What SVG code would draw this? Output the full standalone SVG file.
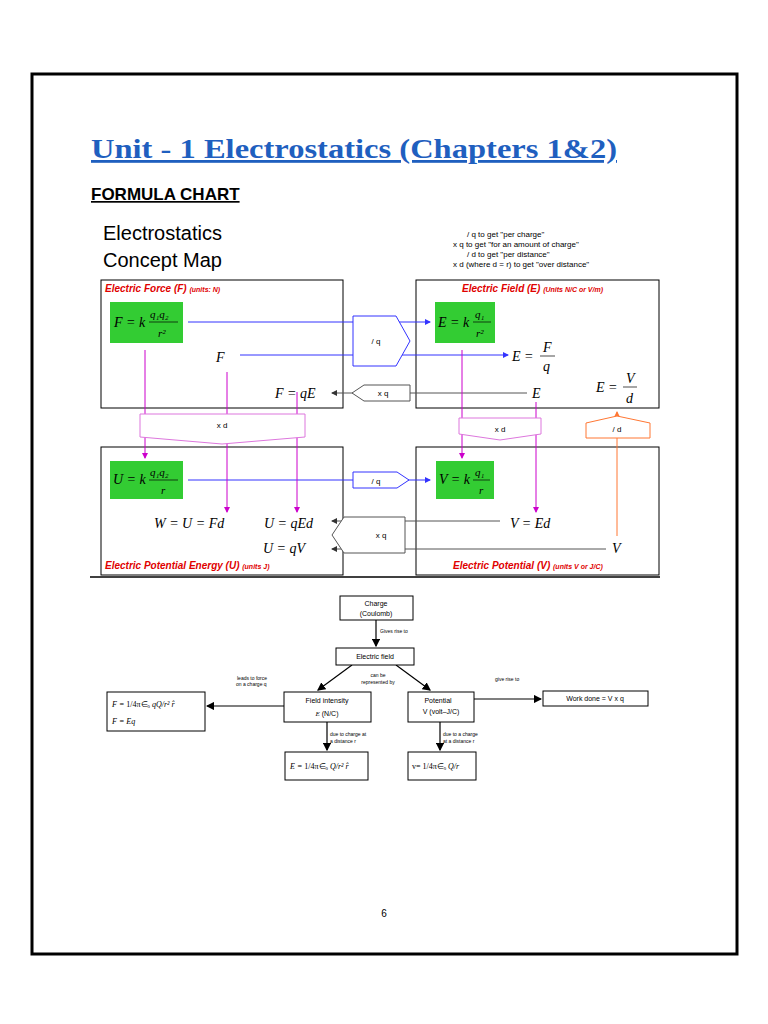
<svg xmlns="http://www.w3.org/2000/svg" width="768" height="1024" viewBox="0 0 768 1024">
<defs>
<style>
.m{font-family:"Liberation Serif",serif;font-style:italic;font-size:14px}
.ms{font-size:11px}
.mt{font-size:8px}
.hd{font-family:"Liberation Sans",sans-serif;font-style:italic;font-weight:bold;font-size:10px;fill:#e00000}
.hs{font-size:7px}
.sm{font-family:"Liberation Sans",sans-serif;font-size:8px}
.t{font-family:"Liberation Sans",sans-serif;font-size:7px}
.t5{font-size:5px}
.bx{fill:#fff;stroke:#000;stroke-width:1}
.g{fill:#33cc33}
</style>
<marker id="ab" markerWidth="6" markerHeight="6" refX="5" refY="3" orient="auto"><path d="M0,0L6,3L0,6z" fill="#3333ff"/></marker>
<marker id="ap" markerWidth="6" markerHeight="6" refX="5" refY="3" orient="auto"><path d="M0,0L6,3L0,6z" fill="#cc00cc"/></marker>
<marker id="ag" markerWidth="6" markerHeight="6" refX="5" refY="3" orient="auto"><path d="M0,0L6,3L0,6z" fill="#333"/></marker>
<marker id="ao" markerWidth="6" markerHeight="6" refX="5" refY="3" orient="auto"><path d="M0,0L6,3L0,6z" fill="#ff7733"/></marker>
<marker id="ak" markerWidth="7" markerHeight="7" refX="6" refY="3.5" orient="auto"><path d="M0,0L7,3.5L0,7z" fill="#000"/></marker>
</defs>
<rect width="768" height="1024" fill="#fff"/>
<rect x="32" y="74" width="705" height="880" fill="none" stroke="#000" stroke-width="3"/>
<text x="91" y="158" font-family="Liberation Serif,serif" font-weight="bold" font-size="28" fill="#1f5fbf" text-decoration="underline" textLength="526" lengthAdjust="spacingAndGlyphs">Unit - 1 Electrostatics (Chapters 1&amp;2)</text>
<text x="91" y="200" font-family="Liberation Sans,sans-serif" font-weight="bold" font-size="17" text-decoration="underline">FORMULA CHART</text>
<text x="103" y="240" font-family="Liberation Sans,sans-serif" font-size="20">Electrostatics</text>
<text x="103" y="267" font-family="Liberation Sans,sans-serif" font-size="20">Concept Map</text>
<g class="sm"><text x="467" y="237">/ q to get "per charge"</text><text x="453" y="247">x q to get "for an amount of charge"</text><text x="467" y="257">/ d to get "per distance"</text><text x="453" y="267">x d (where d = r) to get "over distance"</text></g>

<g id="forceBox"><rect x="101" y="280" width="242" height="128" class="bx"/><text x="105" y="292" class="hd">Electric Force (F) <tspan class="hs">(units:  N)</tspan></text>
<rect x="110" y="302" width="73" height="41" class="g"/><text x="114" y="327" class="m">F = k</text><text x="150" y="318" class="m ms">q₁q₂</text><line x1="149" y1="322" x2="178" y2="322" stroke="#000" stroke-width="0.7"/><text x="158" y="337" class="m ms">r²</text>
<text x="216" y="362" class="m">F</text><text x="275" y="398" class="m">F = qE</text></g>
<g id="fieldBox"><rect x="416" y="280" width="243" height="128" class="bx"/><text x="462" y="292" class="hd">Electric Field (E) <tspan class="hs">(Units N/C or V/m)</tspan></text>
<rect x="435" y="302" width="60" height="41" class="g"/><text x="438" y="327" class="m">E = k</text><text x="475" y="318" class="m ms">q₁</text><line x1="473" y1="322" x2="491" y2="322" stroke="#000" stroke-width="0.7"/><text x="476" y="337" class="m ms">r²</text>
<text x="512" y="361" class="m">E =</text><text x="543" y="352" class="m">F</text><line x1="540" y1="356" x2="555" y2="356" stroke="#000" stroke-width="0.7"/><text x="543" y="371" class="m">q</text>
<text x="532" y="398" class="m">E</text><text x="596" y="392" class="m">E =</text><text x="626" y="383" class="m">V</text><line x1="623" y1="387" x2="637" y2="387" stroke="#000" stroke-width="0.7"/><text x="626" y="403" class="m">d</text></g>
<g id="energyBox"><rect x="101" y="447" width="242" height="128" class="bx"/><text x="105" y="569" class="hd">Electric Potential Energy (U) <tspan class="hs">(units J)</tspan></text>
<rect x="110" y="461" width="73" height="38" class="g"/><text x="113" y="484" class="m">U = k</text><text x="150" y="476" class="m ms">q₁q₂</text><line x1="149" y1="480" x2="178" y2="480" stroke="#000" stroke-width="0.7"/><text x="161" y="494" class="m ms">r</text>
<text x="154" y="528" class="m">W = U = Fd</text><text x="264" y="528" class="m">U = qEd</text><text x="263" y="553" class="m">U = qV</text></g>
<g id="potBox"><rect x="416" y="447" width="243" height="128" class="bx"/><text x="453" y="569" class="hd">Electric Potential (V) <tspan class="hs">(units V or J/C)</tspan></text>
<rect x="436" y="461" width="58" height="38" class="g"/><text x="439" y="484" class="m">V = k</text><text x="475" y="476" class="m ms">q₁</text><line x1="473" y1="480" x2="490" y2="480" stroke="#000" stroke-width="0.7"/><text x="479" y="494" class="m ms">r</text>
<text x="510" y="528" class="m">V = Ed</text><text x="612" y="553" class="m">V</text></g>
<line x1="90" y1="577" x2="660" y2="577" stroke="#000" stroke-width="1.5"/>

<g id="connectors" fill="none">
<g stroke="#3333ff"><line x1="188" y1="322" x2="430" y2="322" marker-end="url(#ab)"/><line x1="240" y1="355" x2="508" y2="355" marker-end="url(#ab)"/><line x1="188" y1="480" x2="430" y2="480" marker-end="url(#ab)"/></g>
<g stroke="#555"><line x1="527" y1="393" x2="332" y2="393" marker-end="url(#ag)"/><line x1="500" y1="521" x2="332" y2="521" marker-end="url(#ag)"/><line x1="606" y1="549" x2="332" y2="549" marker-end="url(#ag)"/></g>
<g stroke="#cc00cc"><line x1="145" y1="350" x2="145" y2="458" marker-end="url(#ap)"/><line x1="227" y1="372" x2="227" y2="512" marker-end="url(#ap)"/><line x1="297" y1="392" x2="297" y2="512" marker-end="url(#ap)"/><line x1="462" y1="350" x2="462" y2="458" marker-end="url(#ap)"/><line x1="536" y1="402" x2="536" y2="512" marker-end="url(#ap)"/></g>
<line x1="617" y1="536" x2="617" y2="412" stroke="#ff7733" marker-end="url(#ao)"/>
<g stroke="#000" stroke-width="1.2">
<line x1="376" y1="620" x2="376" y2="646" marker-end="url(#ak)"/>
<line x1="352" y1="665" x2="318" y2="690" marker-end="url(#ak)"/>
<line x1="396" y1="665" x2="430" y2="690" marker-end="url(#ak)"/>
<line x1="284" y1="706" x2="207" y2="706" marker-end="url(#ak)"/>
<line x1="474" y1="699" x2="541" y2="699" marker-end="url(#ak)"/>
<line x1="327" y1="722" x2="327" y2="750" marker-end="url(#ak)"/>
<line x1="440" y1="722" x2="440" y2="750" marker-end="url(#ak)"/>
</g>
</g>
<g id="ops" font-family="Liberation Sans,sans-serif" font-size="8" text-anchor="middle">
<path d="M353,316H396L410,341L396,366H353Z" fill="#fff" stroke="#3333ff"/><text x="376" y="344">/ q</text>
<path d="M353,472H397L409,480L397,488H353Z" fill="#fff" stroke="#3333ff"/><text x="376" y="484">/ q</text>
<path d="M364,385H410V401H364L352,393Z" fill="#fff" stroke="#555"/><text x="383" y="396">x q</text>
<path d="M332,535L344,517H405V553H344Z" fill="#fff" stroke="#555"/><text x="381" y="538">x q</text>
<path d="M140,414H305V437L222,444L140,437Z" fill="#fff" stroke="#dd77dd"/><text x="222" y="428">x d</text>
<path d="M459,418H541V434L500,440L459,434Z" fill="#fff" stroke="#dd77dd"/><text x="500" y="432">x d</text>
<path d="M586,423L617,416L650,423V438H586Z" fill="#fff" stroke="#ff7733"/><text x="617" y="432">/ d</text>
</g>

<g id="charge"><rect x="340" y="596" width="73" height="24" class="bx"/><text x="376" y="606" class="t" text-anchor="middle">Charge</text><text x="376" y="616" class="t" text-anchor="middle">(Coulomb)</text></g>
<text x="380" y="633" class="t t5">Gives rise to</text>
<g id="efield"><rect x="336" y="648" width="78" height="17" class="bx"/><text x="375" y="659" class="t" text-anchor="middle">Electric field</text></g>
<g><text x="378" y="677" class="t t5" text-anchor="middle">can be</text><text x="378" y="684" class="t t5" text-anchor="middle">represented by</text><text x="237" y="680" class="t t5">leads to force</text><text x="236" y="686" class="t t5">on a charge q</text><text x="495" y="681" class="t t5">give rise to</text><text x="330" y="736" class="t t5">due to charge at</text><text x="330" y="743" class="t t5">a distance r</text><text x="443" y="736" class="t t5">due to a charge</text><text x="443" y="743" class="t t5">at a distance r</text></g>
<g id="intensity"><rect x="284" y="692" width="87" height="30" class="bx"/><text x="327" y="703" class="t" text-anchor="middle">Field intensity</text><text x="327" y="716" class="t" text-anchor="middle"><tspan font-style="italic" font-family="Liberation Serif,serif">E</tspan>    (N/C)</text></g>
<g id="potential"><rect x="408" y="692" width="66" height="30" class="bx"/><text x="438" y="703" class="t" text-anchor="middle">Potential</text><text x="441" y="714" class="t" text-anchor="middle">V   (volt–J/C)</text></g>
<g id="work"><rect x="543" y="691" width="105" height="15" class="bx"/><text x="595" y="701" class="t" text-anchor="middle">Work done = V x q</text></g>
<g id="forceF"><rect x="107" y="692" width="98" height="39" class="bx"/><text x="112" y="707" class="m mt">F = <tspan font-style="normal">1/4π∈ₒ</tspan> qQ/r² r̂</text><text x="112" y="724" class="m mt">F = Eq</text></g>
<g id="eFormula"><rect x="285" y="752" width="83" height="28" class="bx"/><text x="290" y="769" class="m mt">E = <tspan font-style="normal">1/4π∈ₒ</tspan> Q/r² r̂</text></g>
<g id="vFormula"><rect x="408" y="752" width="68" height="28" class="bx"/><text x="412" y="769" class="m mt"><tspan font-style="normal">v= 1/4π∈ₒ</tspan> Q/r</text></g>
<text x="384" y="917" font-family="Liberation Sans,sans-serif" font-size="10" text-anchor="middle">6</text>
</svg>
